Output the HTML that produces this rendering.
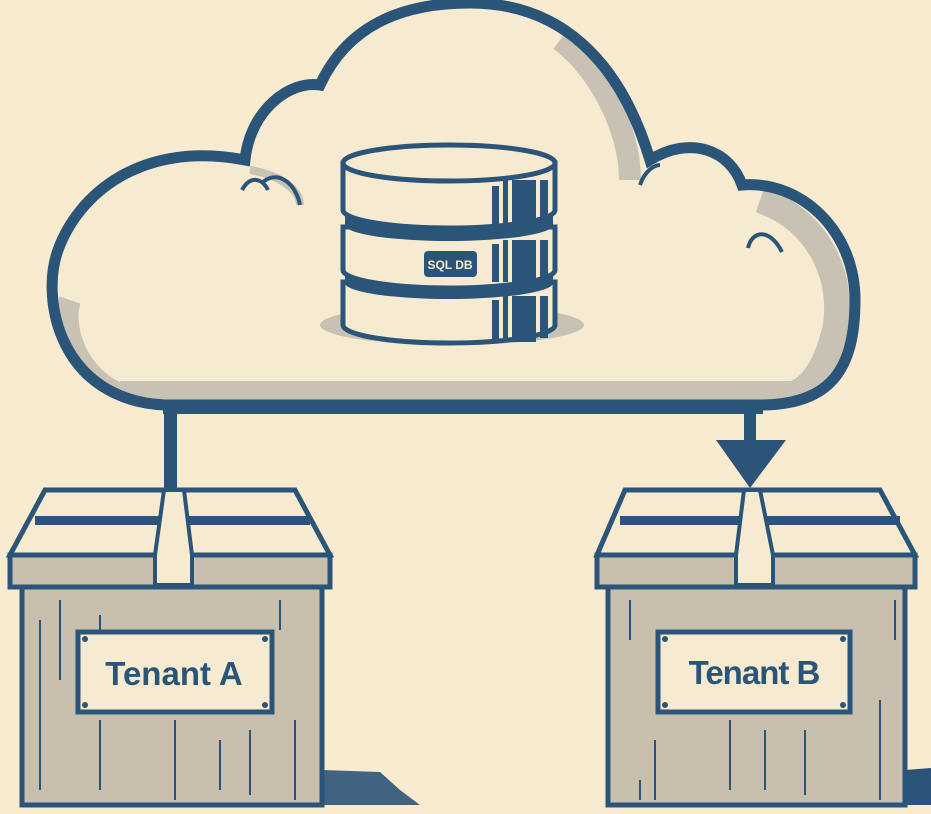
<!DOCTYPE html>
<html><head><meta charset="utf-8"><style>
html,body{margin:0;padding:0;background:#f8ebd0;}
svg{display:block}
</style></head><body>
<svg width="931" height="814" viewBox="0 0 931 814" xmlns="http://www.w3.org/2000/svg">
<rect width="931" height="814" fill="#f8ebd0"/>
<defs>
<clipPath id="cc"><path d="M165,405 C60,400 40,300 58,250 C78,195 140,140 245,160 C250,110 290,80 320,85 C350,20 410,3 470,3 C560,3 620,60 650,160 C690,135 730,150 742,185 C800,180 855,230 855,300 C855,370 830,405 760,405 Z"/></clipPath>
</defs>
<!-- cloud -->
<path d="M165,405 C60,400 40,300 58,250 C78,195 140,140 245,160 C250,110 290,80 320,85 C350,20 410,3 470,3 C560,3 620,60 650,160 C690,135 730,150 742,185 C800,180 855,230 855,300 C855,370 830,405 760,405 Z" fill="#f6ead0"/>
<g clip-path="url(#cc)" fill="none" stroke="#c8c2b4">
<path d="M140,400 C80,390 60,330 70,300" stroke-width="22"/>
<path d="M120,392 L800,392" stroke-width="22"/>
<path d="M560,40 C600,70 630,130 630,180" stroke-width="22"/>
<path d="M760,200 C820,220 845,280 835,330 C825,370 810,390 790,395" stroke-width="26"/>
<path d="M250,170 C280,175 300,190 300,205" stroke-width="8"/>
</g>
<path d="M165,405 C60,400 40,300 58,250 C78,195 140,140 245,160 C250,110 290,80 320,85 C350,20 410,3 470,3 C560,3 620,60 650,160 C690,135 730,150 742,185 C800,180 855,230 855,300 C855,370 830,405 760,405 Z" fill="none" stroke="#2b5479" stroke-width="11"/>
<path d="M242,190 C250,175 262,178 268,190 M262,183 C275,170 295,180 300,205" fill="none" stroke="#2b5479" stroke-width="4"/>
<path d="M748,248 C752,230 770,228 782,252" fill="none" stroke="#2b5479" stroke-width="4"/>
<path d="M640,185 C645,170 655,165 660,165" fill="none" stroke="#2b5479" stroke-width="4"/>
<!-- connectors -->
<rect x="163" y="400" width="600" height="14" fill="#2b5479"/>
<rect x="164" y="405" width="13" height="88" fill="#2b5479"/>
<rect x="744" y="405" width="12" height="45" fill="#2b5479"/>
<polygon points="716,440 786,440 750,488" fill="#2b5479"/>
<!-- cylinder -->
<ellipse cx="452" cy="325" rx="132" ry="20" fill="#c8c2b4"/>
<g stroke="#2b5479" stroke-width="5">
<path d="M343,282 L343,325 A106,18 0 0 0 555,325 L555,282 Z" fill="#f6ead0"/>
<path d="M343,227 L343,270 A106,18 0 0 0 555,270 L555,227 Z" fill="#f6ead0"/>
<path d="M343,163 L343,210 A106,18 0 0 0 555,210 L555,163 Z" fill="#f6ead0"/>
<ellipse cx="449" cy="163" rx="106" ry="18" fill="#f6ead0"/>
</g>
<path d="M345,213 A104,16 0 0 0 553,213 L553,225 A104,16 0 0 1 345,225Z" fill="#2b5479"/>
<path d="M345,273 A104,16 0 0 0 553,273 L553,283 A104,16 0 0 1 345,283Z" fill="#2b5479"/>
<g fill="#2b5479">
<rect x="492" y="186" width="7" height="40"/><rect x="503" y="180" width="5" height="46"/><rect x="512" y="180" width="24" height="48"/><rect x="540" y="180" width="8" height="44"/>
<rect x="492" y="244" width="7" height="38"/><rect x="503" y="240" width="5" height="42"/><rect x="512" y="240" width="24" height="44"/><rect x="540" y="240" width="8" height="40"/>
<rect x="492" y="300" width="7" height="40"/><rect x="503" y="296" width="5" height="46"/><rect x="512" y="296" width="24" height="46"/><rect x="540" y="296" width="8" height="42"/>
<rect x="424" y="251" width="53" height="26" rx="4"/>
</g>
<text x="450" y="269" font-family="Liberation Sans, sans-serif" font-size="12" font-weight="bold" fill="#f6ead0" text-anchor="middle">SQL DB</text>
<!-- shadows under boxes -->
<g fill="#2b5479">
<path d="M322,770 L380,772 L400,790 L420,805 L322,805Z" opacity="0.9"/>
<path d="M905,770 L931,768 L931,805 L905,805Z"/>
</g>
<!-- Box A -->
<g stroke="#2b5479" stroke-width="5">
<rect x="22" y="585" width="300" height="220" fill="#c9bfae"/>
<path d="M45,490 L295,490 L330,555 L10,555 Z" fill="#f6ead0"/>
<rect x="10" y="555" width="320" height="32" fill="#c9bfae"/>
<rect x="78" y="632" width="194" height="80" fill="#f6ead0"/>
</g>
<rect x="35" y="516" width="275" height="9" fill="#2b5479"/>
<path d="M164,490 L184,490 L192,555 L192,585 L155,585 L155,555 Z" fill="#f6ead0" stroke="#2b5479" stroke-width="4"/>
<g stroke="#2b5479" stroke-width="2"><path d="M60,600 V680 M100,615 V630 M100,720 V790 M175,720 V800 M220,740 V790 M250,730 V795 M280,600 V630 M295,720 V800 M40,620 V790"/></g>
<g fill="#2b5479"><circle cx="85" cy="639" r="3"/><circle cx="265" cy="639" r="3"/><circle cx="85" cy="705" r="3"/><circle cx="265" cy="705" r="3"/></g>
<text x="174" y="685" font-family="Liberation Sans, sans-serif" font-size="33" font-weight="bold" fill="#2b5479" text-anchor="middle">Tenant A</text>
<!-- Box B -->
<g stroke="#2b5479" stroke-width="5">
<rect x="608" y="585" width="297" height="220" fill="#c9bfae"/>
<path d="M625,490 L880,490 L915,555 L597,555 Z" fill="#f6ead0"/>
<rect x="597" y="555" width="318" height="32" fill="#c9bfae"/>
<rect x="658" y="632" width="192" height="80" fill="#f6ead0"/>
</g>
<rect x="620" y="516" width="280" height="9" fill="#2b5479"/>
<path d="M744,490 L760,490 L773,555 L773,585 L736,585 L736,555 Z" fill="#f6ead0" stroke="#2b5479" stroke-width="4"/>
<g stroke="#2b5479" stroke-width="2"><path d="M630,600 V640 M655,740 V800 M730,720 V790 M765,730 V790 M805,730 V795 M880,700 V800 M895,600 V640 M640,780 V800"/></g>
<g fill="#2b5479"><circle cx="665" cy="639" r="3"/><circle cx="843" cy="639" r="3"/><circle cx="665" cy="705" r="3"/><circle cx="843" cy="705" r="3"/></g>
<text x="754" y="684" font-family="Liberation Sans, sans-serif" font-size="33" font-weight="bold" fill="#2b5479" text-anchor="middle" letter-spacing="-1">Tenant B</text>
</svg>
</body></html>
